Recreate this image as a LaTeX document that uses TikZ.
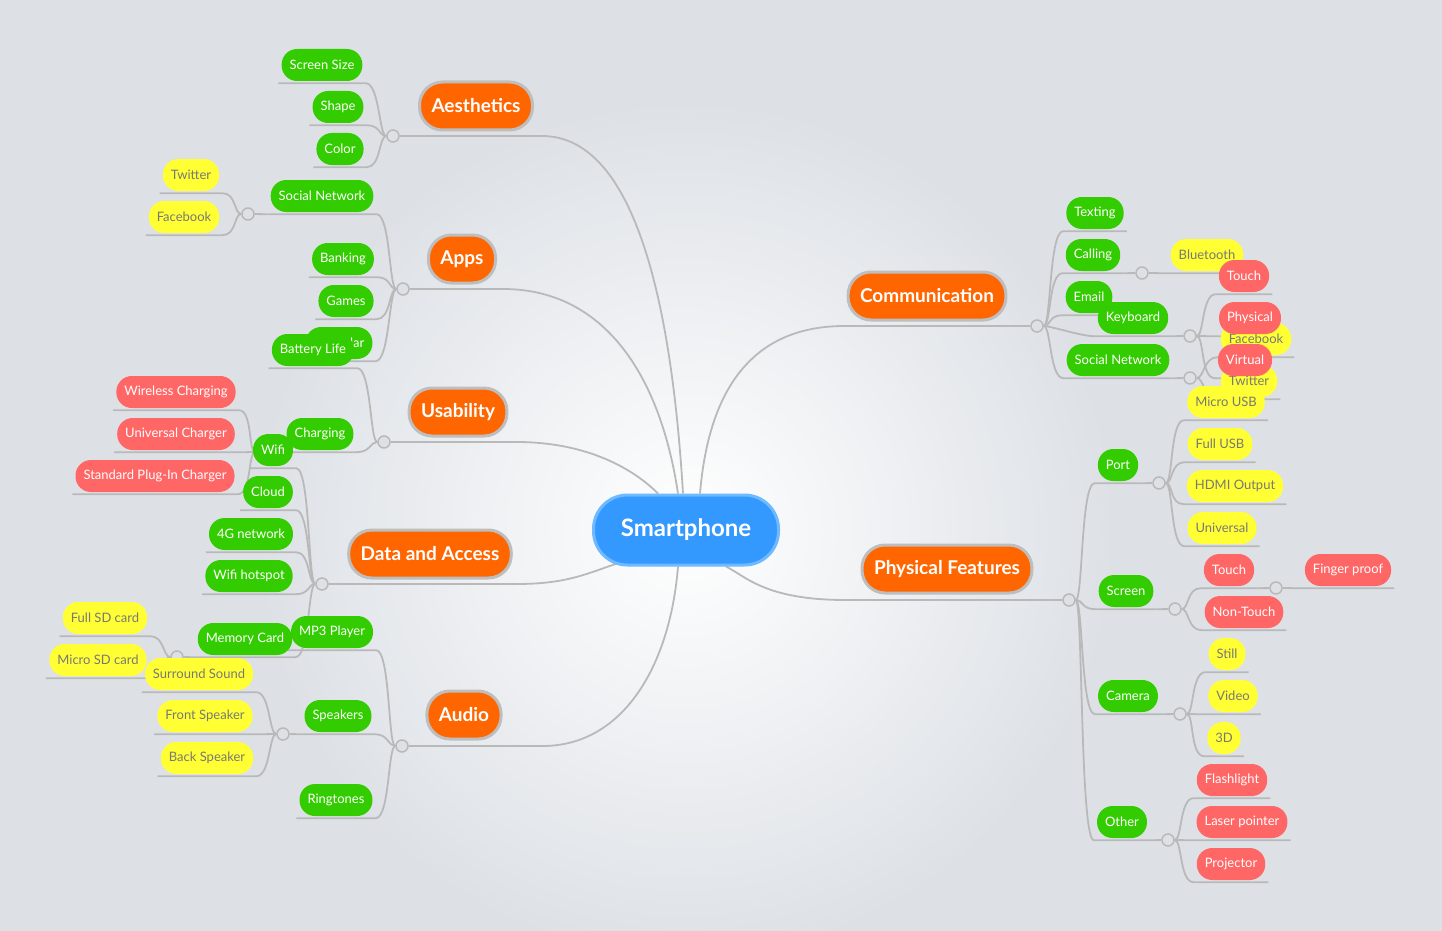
\documentclass[tikz,border=0pt]{standalone}
\usepackage{fontspec}
\setmainfont{Lato}
\usetikzlibrary{calc}
\pgfdeclarelayer{back}\pgfdeclarelayer{bg}\pgfsetlayers{back,bg,main}
\definecolor{bgc}{RGB}{221,225,230}
\definecolor{cgreen}{RGB}{51,204,0}
\definecolor{cred}{RGB}{255,102,102}
\definecolor{cyel}{RGB}{255,255,51}
\definecolor{cyt}{RGB}{120,120,120}
\definecolor{corg}{RGB}{255,102,0}
\definecolor{cring}{RGB}{190,190,190}
\definecolor{lnc}{RGB}{185,185,185}
\definecolor{cblue}{RGB}{51,153,255}
\definecolor{cblr}{RGB}{110,185,255}
\newcommand\bl[2]{\draw[ln] (#1) .. controls +(-14,0) and +(14,0) .. ($(#2.south east)+(3,2)$) -- ($(#2.south west)+(-3,2)$);}
\newcommand\brr[2]{\draw[ln] (#1) .. controls +(14,0) and +(-14,0) .. ($(#2.south west)+(-3,2)$) -- ($(#2.south east)+(3,2)$);}
\begin{document}
\begin{tikzpicture}[x=1pt,y=-1pt,
 leaf/.style={rectangle,rounded corners=15.5pt,minimum height=32pt,inner xsep=8pt,inner ysep=0pt,font=\fontsize{13}{15}\selectfont,text=white},
 gn/.style={leaf,fill=cgreen},
 rd/.style={leaf,fill=cred},
 yl/.style={leaf,fill=cyel,text=cyt},
 topic/.style={rectangle,rounded corners=23pt,fill=corg,draw=cring,line width=3pt,minimum height=48pt,inner xsep=12pt,text=white,font=\fontsize{19}{22}\selectfont\bfseries},
 jn/.style={circle,draw=lnc,fill=bgc,line width=1.5pt,minimum size=12pt,inner sep=0pt},
 ln/.style={draw=lnc,line width=1.8pt}]
\useasboundingbox (0,0) rectangle (1442,931);
\begin{pgfonlayer}{back}
\clip (0,0) rectangle (1442,931);
\fill[bgc] (0,0) rectangle (1442,931);
\shade[inner color=white,outer color=bgc] (686,530) circle (430);
\end{pgfonlayer}

% junctions
\foreach \n/\x/\y in {J1/393/136,J2/403/289,J2a/248/214,J3/384/442,Jc/262/452,J4/322/584,J4a/177/657,J5/402/746,J5a/283/734,J6/1037/326,J6a/1142/273,J6b/1190/336,J6c/1190/378,J7/1069/600,J7a/1159/483,J7b/1175/609,J7c/1276/588,J7d/1180/714,J7e/1168/840}
  \node[jn] (\n) at (\x,\y) {};

% center and topics
\node[rectangle,rounded corners=34pt,fill=cblue,draw=cblr,line width=3pt,minimum width=185pt,minimum height=70pt,text=white,font=\fontsize{24}{28}\selectfont\bfseries] (sm) at (686,530) {Smartphone};
\node[topic] (aes) at (476,106) {Aesthetics};
\node[topic] (app) at (462,259) {Apps};
\node[topic] (usa) at (458,412) {Usability};
\node[topic] (dat) at (430,554) {Data and Access};
\node[topic] (aud) at (464,715) {Audio};
\node[topic] (com) at (927,296) {Communication};
\node[topic] (phy) at (947,569) {Physical Features};

% left leaves
\node[gn] (ss) at (322,65) {Screen Size};
\node[gn] (shp) at (338,107) {Shape};
\node[gn] (col) at (340,149) {Color};
\node[yl] (tw) at (191,175) {Twitter};
\node[yl] (fb) at (184,217) {Facebook};
\node[gn] (snL) at (322,196) {Social Network};
\node[gn] (bank) at (343,259) {Banking};
\node[gn] (games) at (346,301) {Games};
\node[gn] (cal) at (339,343) {Calendar};
\node[gn] (batt) at (313,350) {Battery Life};
\node[rd] (wc) at (176,392) {Wireless Charging};
\node[rd] (uc) at (176,434) {Universal Charger};
\node[rd] (sp) at (155,476) {Standard Plug-In Charger};
\node[gn] (chg) at (320,434) {Charging};
\node[gn] (wifi) at (273,450) {Wifi};
\node[gn] (cloud) at (268,492) {Cloud};
\node[gn] (g4) at (251,534) {4G network};
\node[gn] (wh) at (249,576) {Wifi hotspot};
\node[yl] (fsd) at (105,618) {Full SD card};
\node[yl] (msd) at (98,660) {Micro SD card};
\node[gn] (mem) at (245,639) {Memory Card};
\node[gn] (mp3) at (332,632) {MP3 Player};
\node[yl] (sur) at (199,674) {Surround Sound};
\node[yl] (fs) at (205,716) {Front Speaker};
\node[yl] (bs) at (207,758) {Back Speaker};
\node[gn] (spk) at (338,716) {Speakers};
\node[gn] (ring) at (336,800) {Ringtones};

% right leaves
\node[gn] (tex) at (1095,213) {Texting};
\node[gn] (call) at (1093,255) {Calling};
\node[yl] (bt) at (1207,255) {Bluetooth};
\node[gn] (em) at (1089,297) {Email};
\node[gn] (kb) at (1133,318) {Keyboard};
\node[gn] (snR) at (1118,360) {Social Network};
\node[yl] (fbR) at (1256,339) {Facebook};
\node[yl] (twR) at (1249,381) {Twitter};
\node[rd] (tch) at (1244,276) {Touch};
\node[rd] (phys) at (1250,318) {Physical};
\node[rd] (vir) at (1245,360) {Virtual};
\node[yl] (musb) at (1226,402) {Micro USB};
\node[yl] (fusb) at (1220,444) {Full USB};
\node[yl] (hdmi) at (1235,486) {HDMI Output};
\node[yl] (univ) at (1222,528) {Universal};
\node[gn] (port) at (1118,465) {Port};
\node[gn] (scr) at (1126,591) {Screen};
\node[rd] (tch2) at (1229,570) {Touch};
\node[rd] (fp) at (1348,570) {Finger proof};
\node[rd] (ntch) at (1244,612) {Non-Touch};
\node[gn] (cam) at (1128,696) {Camera};
\node[yl] (still) at (1227,654) {Still};
\node[yl] (vid) at (1233,696) {Video};
\node[yl] (d3) at (1224,738) {3D};
\node[gn] (oth) at (1122,822) {Other};
\node[rd] (fl) at (1232,780) {Flashlight};
\node[rd] (lp) at (1242,822) {Laser pointer};
\node[rd] (proj) at (1231,864) {Projector};

\begin{pgfonlayer}{bg}
% main connectors
\draw[ln] (J1) -- ($(aes.east|-J1)+(8,0)$) .. controls +(90,0) and +(-12,-200) .. ($(sm.north)+(-3,0)$);
\draw[ln] (J2) -- ($(app.east|-J2)+(6,0)$) .. controls +(100,0) and +(-18,-120) .. ($(sm.north)+(-8,0)$);
\draw[ln] (J3) -- ($(usa.east|-J3)+(8,0)$) .. controls +(70,0) and +(-25,-25) .. ($(sm.north)+(-28,0)$);
\draw[ln] (J4) -- ($(dat.east|-J4)+(4,0)$) .. controls +(50,0) and +(-30,10) .. ($(sm.south west)+(25,-3)$);
\draw[ln] (J5) -- ($(aud.east|-J5)+(40,0)$) .. controls +(80,0) and +(-8,100) .. ($(sm.south)+(-8,0)$);
\draw[ln] (J6) -- ($(com.west|-J6)+(-2,0)$) .. controls +(-80,0) and +(10,-120) .. ($(sm.north)+(14,0)$);
\draw[ln] (J7) -- ($(phy.west|-J7)+(-15,0)$) .. controls +(-80,0) and +(20,10) .. ($(sm.south)+(40,0)$);
% left branches
\bl{J1}{ss}\bl{J1}{shp}\bl{J1}{col}
\bl{J2}{snL}\bl{J2}{bank}\bl{J2}{games}\bl{J2}{cal}
\draw[ln] (J2a) -- ($(snL.south west)+(-3,2)$);
\bl{J2a}{tw}\bl{J2a}{fb}
\bl{J3}{batt}\bl{J3}{chg}
\draw[ln] (Jc) -- ($(chg.south west)+(-3,2)$);
\bl{Jc}{wc}\bl{Jc}{uc}\bl{Jc}{sp}
\bl{J4}{wifi}\bl{J4}{cloud}\bl{J4}{g4}\bl{J4}{wh}\bl{J4}{mem}
\draw[ln] (J4a) -- ($(mem.south west)+(-3,2)$);
\bl{J4a}{fsd}\bl{J4a}{msd}
\bl{J5}{mp3}\bl{J5}{spk}\bl{J5}{ring}
\draw[ln] (J5a) -- ($(spk.south west)+(-3,2)$);
\bl{J5a}{sur}\bl{J5a}{fs}\bl{J5a}{bs}
% right branches
\brr{J6}{tex}\brr{J6}{call}\brr{J6}{em}\brr{J6}{kb}\brr{J6}{snR}
\draw[ln] ($(call.south east)+(3,2)$) -- (J6a);
\brr{J6a}{bt}
\draw[ln] ($(kb.south east)+(3,2)$) -- (J6b);
\brr{J6b}{tch}\brr{J6b}{phys}\brr{J6b}{vir}
\draw[ln] ($(snR.south east)+(3,2)$) -- (J6c);
\brr{J6c}{fbR}\brr{J6c}{twR}
\brr{J7}{port}\brr{J7}{scr}\brr{J7}{cam}\brr{J7}{oth}
\draw[ln] ($(port.south east)+(3,2)$) -- (J7a);
\brr{J7a}{musb}\brr{J7a}{fusb}\brr{J7a}{hdmi}\brr{J7a}{univ}
\draw[ln] ($(scr.south east)+(3,2)$) -- (J7b);
\brr{J7b}{tch2}\brr{J7b}{ntch}
\draw[ln] ($(tch2.south east)+(3,2)$) -- (J7c);
\brr{J7c}{fp}
\draw[ln] ($(cam.south east)+(3,2)$) -- (J7d);
\brr{J7d}{still}\brr{J7d}{vid}\brr{J7d}{d3}
\draw[ln] ($(oth.south east)+(3,2)$) -- (J7e);
\brr{J7e}{fl}\brr{J7e}{lp}\brr{J7e}{proj}
\end{pgfonlayer}
\end{tikzpicture}
\end{document}
